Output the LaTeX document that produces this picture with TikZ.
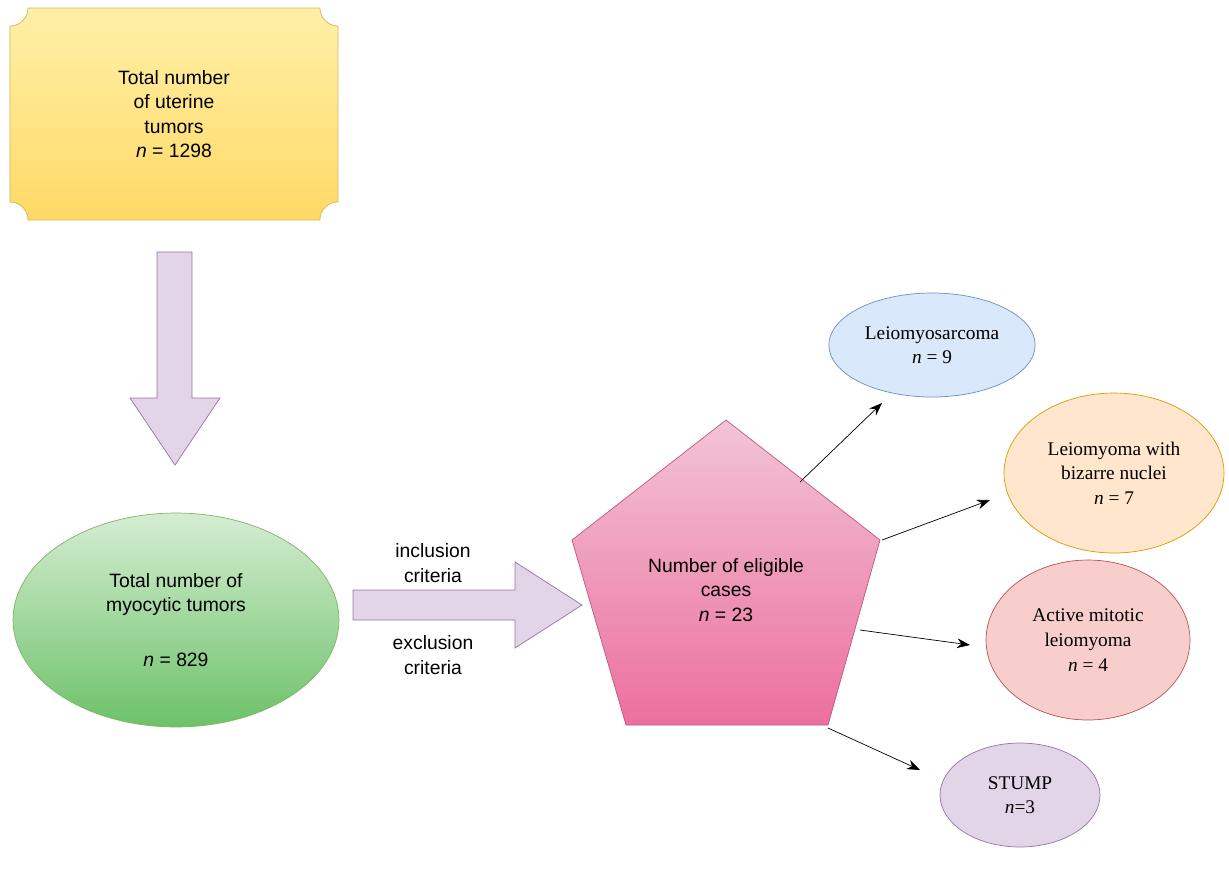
\documentclass[tikz,border=0pt]{standalone}
\usepackage{fontspec}
\setmainfont{Liberation Sans}
\newfontfamily\serifrm{Liberation Serif}
\usetikzlibrary{shapes.geometric,arrows.meta,positioning,calc}
\definecolor{lilac}{HTML}{E1D5E7}
\definecolor{lilacline}{HTML}{9673A6}
\definecolor{skyfill}{HTML}{DAE8FC}
\definecolor{skyline}{HTML}{6C8EBF}
\definecolor{peachfill}{HTML}{FFE6CC}
\definecolor{peachline}{HTML}{D79B00}
\definecolor{rosefill}{HTML}{F8CECC}
\definecolor{roseline}{HTML}{B85450}
\definecolor{pinktop}{HTML}{F2C4D6}
\definecolor{pinkbot}{HTML}{EC6F9E}
\definecolor{pinkline}{HTML}{C0567E}
\definecolor{greentop}{HTML}{D5EDD3}
\definecolor{greenbot}{HTML}{6CC268}
\definecolor{greenline}{HTML}{82B366}
\definecolor{yellowtop}{HTML}{FFF0A8}
\definecolor{yellowbot}{HTML}{FFD966}
\definecolor{yellowline}{HTML}{D6B656}
\begin{document}
\begin{tikzpicture}[
    x=0.02cm, y=-0.02cm,
    font=\fontsize{11}{14}\selectfont,
    bigarrow/.style={draw=lilacline, fill=lilac, thin},
    result/.style={ellipse, thin, align=center, font=\serifrm\fontsize{11}{14}\selectfont},
    arrow/.style={-{Stealth[length=2.6mm]}, thin}
]
    \useasboundingbox (0,0) rectangle (1229,886);
    % top box with scooped corners
    \begin{scope}[x=1cm, y=1cm]
        \shade[top color=yellowtop, bottom color=yellowbot, draw=yellowline, thin]
            (0.56,-0.16) -- (6.40,-0.16) arc (180:270:0.36) -- (6.76,-4.04) arc (90:180:0.36)
            -- (0.56,-4.40) arc (0:90:0.36) -- (0.2,-0.52) arc (270:360:0.36) -- cycle;
    \end{scope}
    \node[align=center] (total) at (174,114) {Total number\\of uterine\\tumors\\\textit{n} = 1298};
    % down arrow
    \draw[bigarrow] (157,252) -- (192,252) -- (192,398) -- (220,398) -- (175,465)
        -- (130,398) -- (157,398) -- cycle;
    % myocytic tumors
    \node[ellipse, draw=greenline, thin, top color=greentop, bottom color=greenbot,
        minimum width=6.52cm, minimum height=4.28cm, align=center] (myo) at (176,620)
        {Total number of\\myocytic tumors\\[3ex]\textit{n} = 829};
    % right arrow
    \draw[bigarrow] (353,590) -- (515,590) -- (515,562) -- (582,605) -- (515,648)
        -- (515,620) -- (353,620) -- cycle;
    \node[align=center] (incl) at (433,563) {inclusion\\criteria};
    \node[align=center] (excl) at (433,655) {exclusion\\criteria};
    % eligible cases
    \shade[top color=pinktop, bottom color=pinkbot, draw=pinkline, thin]
        (726,420) -- (880,540) -- (828,725) -- (626,725) -- (572,540) -- cycle;
    \node[align=center] (eligible) at (726,590) {Number of eligible\\cases\\\textit{n} = 23};
    \coordinate (p1) at (800,482);
    \coordinate (p2) at (882,540);
    \coordinate (p3) at (860,630);
    \coordinate (p4) at (828,728);
    % results
    \node[result, draw=skyline, fill=skyfill, minimum width=3.2cm, minimum height=2.08cm] (lms) at (932,345)
        {Leiomyosarcoma\\\textit{n} = 9};
    \node[result, draw=peachline, fill=peachfill, minimum width=4.4cm, minimum height=3.2cm] (bizarre) at (1114,473)
        {Leiomyoma with\\bizarre nuclei\\\textit{n} = 7};
    \node[result, draw=roseline, fill=rosefill, minimum width=4.08cm, minimum height=3.2cm] (active) at (1088,640)
        {Active mitotic\\leiomyoma\\\textit{n} = 4};
    \node[result, draw=lilacline, fill=lilac, minimum width=3.2cm, minimum height=2.08cm] (stump) at (1020,795)
        {STUMP\\\textit{n}=3};
    \coordinate (q1) at (882,403);
    \coordinate (q2) at (990,500);
    \coordinate (q3) at (970,645);
    \coordinate (q4) at (920,770);
    \draw[arrow] (p1) -- (q1);
    \draw[arrow] (p2) -- (q2);
    \draw[arrow] (p3) -- (q3);
    \draw[arrow] (p4) -- (q4);
\end{tikzpicture}
\end{document}
